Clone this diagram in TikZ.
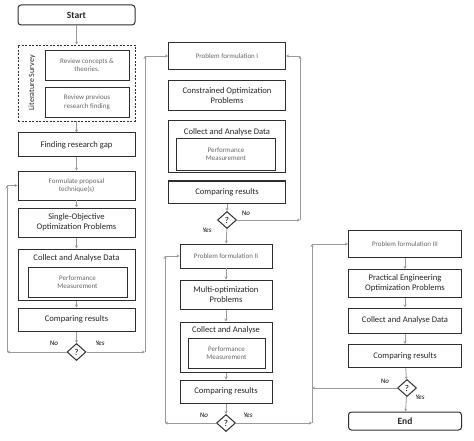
\documentclass[tikz,border=0pt]{standalone}
\usepackage{fontspec}
\setmainfont{Carlito}
\usetikzlibrary{shapes.geometric,arrows.meta}

\definecolor{boxc}{HTML}{2E2E2E}
\definecolor{linkc}{HTML}{9A9A9A}
\definecolor{softc}{HTML}{666666}

\begin{document}
\begin{tikzpicture}[x=1pt,y=-1pt,
  box/.style={draw=boxc,line width=1pt,align=center,inner sep=1pt,font=\fontsize{8.6}{10}\selectfont,text=black!85},
  soft/.style={box,line width=0.9pt,font=\fontsize{7}{8.5}\selectfont,text=softc},
  term/.style={box,rounded corners=3pt,font=\fontsize{9.5}{10}\selectfont\bfseries},
  title/.style={font=\fontsize{8.6}{10}\selectfont,text=black!85,inner sep=0pt},
  decide/.style={diamond,draw=boxc,line width=1pt,minimum width=19pt,minimum height=17pt,inner sep=0pt,font=\fontsize{9}{9}\selectfont},
  link/.style={draw=linkc,line width=0.8pt,-{Stealth[length=3pt,width=3pt]}},
  ans/.style={font=\fontsize{7}{8}\selectfont\itshape,inner sep=0pt}]

\useasboundingbox (0,0) rectangle (474,441);

% first column
\node[term,minimum width=117pt,minimum height=20pt] (start) at (76.5,15) {Start};
\node[draw=boxc,line width=0.9pt,dash pattern=on 2pt off 1.5pt,minimum width=117pt,minimum height=76pt] (lit) at (76.5,83) {};
\node[rotate=90,font=\fontsize{8}{9}\selectfont,text=black!85] (litt) at (32,83) {Literature Survey};
\node[soft,minimum width=84pt,minimum height=30pt] (rev1) at (87,65) {Review concepts \&\\theories.};
\node[soft,minimum width=84pt,minimum height=30pt] (rev2) at (87,102) {Review previous\\research finding};
\node[box,minimum width=117pt,minimum height=24pt] (gap) at (76.5,145) {Finding research gap};
\node[soft,minimum width=117pt,minimum height=29pt] (form) at (76.5,185.5) {Formulate proposal\\technique(s)};
\node[box,minimum width=117pt,minimum height=29pt] (single) at (76.5,222.5) {Single-Objective\\Optimization Problems};
\node[box,minimum width=117pt,minimum height=51pt] (coll1) at (76.5,274.5) {};
\node[title] (coll1t) at (76.5,258) {Collect and Analyse Data};
\node[soft,minimum width=99pt,minimum height=30pt] (perf1) at (77.5,282) {Performance\\Measurement};
\node[box,minimum width=117pt,minimum height=23pt] (comp1) at (76.5,319.5) {Comparing results};
\node[decide] (dec1) at (76.5,352) {?};
\node[ans] (no1) at (54,343) {No};
\node[ans] (yes1) at (100,343) {Yes};

% second column, upper part
\node[soft,minimum width=117pt,minimum height=27pt] (pf1) at (227,56) {Problem formulation I};
\node[box,minimum width=117pt,minimum height=30pt] (cons) at (227,95.5) {Constrained Optimization\\Problems};
\node[box,minimum width=117pt,minimum height=52pt] (coll2) at (227,147) {};
\node[title] (coll2t) at (227,132) {Collect and Analyse Data};
\node[soft,minimum width=99pt,minimum height=32pt] (perf2) at (226,154) {Performance\\Measurement};
\node[box,minimum width=117pt,minimum height=22pt] (comp2) at (227,192) {Comparing results};
\node[decide] (dec2) at (227,220) {?};
\node[ans] (no2) at (246,213) {No};
\node[ans] (yes2) at (207,230) {Yes};

% second column, lower part
\node[soft,minimum width=92pt,minimum height=24pt] (pf2) at (226,256) {Problem formulation II};
\node[box,minimum width=92pt,minimum height=29pt] (multi) at (226,294.5) {Multi-optimization\\Problems};
\node[box,minimum width=92pt,minimum height=50pt] (coll3) at (226,347) {};
\node[title] (coll3t) at (226,330) {Collect and Analyse};
\node[soft,minimum width=77pt,minimum height=30pt] (perf3) at (226.5,353) {Performance\\Measurement};
\node[box,minimum width=92pt,minimum height=23pt] (comp3) at (226,391.5) {Comparing results};
\node[decide] (dec3) at (226,423) {?};
\node[ans] (no3) at (204,415) {No};
\node[ans] (yes3) at (248,415) {Yes};

% third column
\node[soft,minimum width=113pt,minimum height=27pt] (pf3) at (405,244) {Problem formulation III};
\node[box,minimum width=113pt,minimum height=28pt] (prac) at (405,283.5) {Practical Engineering\\Optimization Problems};
\node[box,minimum width=113pt,minimum height=25pt] (coll4) at (405,320.5) {Collect and Analyse Data};
\node[box,minimum width=113pt,minimum height=23pt] (comp4) at (405,356) {Comparing results};
\node[decide] (dec4) at (407,388) {?};
\node[ans] (no4) at (385,381) {No};
\node[ans] (yes4) at (420,397) {Yes};
\node[term,minimum width=113pt,minimum height=18pt] (end) at (405,421) {End};

% return lines
\coordinate (railA) at (7,352);
\coordinate (railB) at (145,352);
\coordinate (railC) at (300,220);
\coordinate (railD) at (165,423);
\coordinate (railE) at (312,423);

% arrows down the columns
\draw[link] (start) -- (lit);
\draw[link] (lit) -- (gap);
\draw[link] (gap) -- (form);
\draw[link] (form) -- (single);
\draw[link] (single) -- (coll1);
\draw[link] (coll1) -- (comp1);
\draw[link] (comp1) -- (dec1);
\draw[link] (comp2) -- (dec2);
\draw[link] (dec2) -- (pf2);
\draw[link] (pf2) -- (multi);
\draw[link] (multi) -- (coll3);
\draw[link] (coll3) -- (comp3);
\draw[link] (comp3) -- (dec3);
\draw[link] (pf3) -- (prac);
\draw[link] (prac) -- (coll4);
\draw[link] (coll4) -- (comp4);
\draw[link] (comp4) -- (dec4);
\draw[link] (dec4) -- (end);

% no / yes loops
\draw[link] (dec1.west) -- (railA);
\draw[link] (railA) -- (railA |- form.west);
\draw[link] (railA |- form.west) -- (form.west);
\draw[link] (dec1.east) -- (railB);
\draw[link] (railB) -- (railB |- pf1.west);
\draw[link] (railB |- pf1.west) -- (pf1.west);
\draw[link] (dec2.east) -- (railC);
\draw[link] (railC) -- (railC |- pf1.east);
\draw[link] (railC |- pf1.east) -- (pf1.east);
\draw[link] (dec3.west) -- (railD);
\draw[link] (railD) -- (railD |- pf2.west);
\draw[link] (railD |- pf2.west) -- (pf2.west);
\draw[link] (dec3.east) -- (railE);
\draw[link] (railE) -- (railE |- pf3.west);
\draw[link] (railE |- pf3.west) -- (pf3.west);
\draw[link] (dec4.west) -- (railE |- dec4.west);
\end{tikzpicture}
\end{document}
